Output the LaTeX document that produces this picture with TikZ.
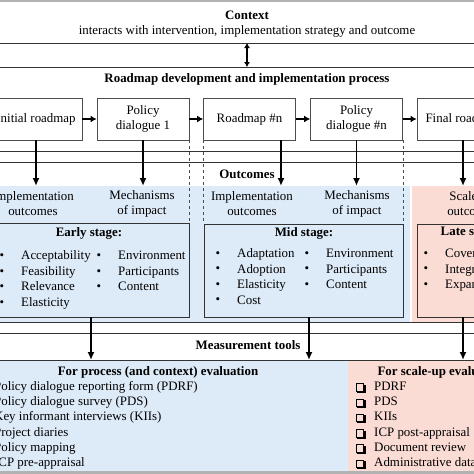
\documentclass[tikz,border=0pt]{standalone}
\usepackage{fontspec}
\setmainfont{Liberation Serif}
\usepackage{tikz}
\usetikzlibrary{arrows.meta}
\definecolor{bandblue}{RGB}{221,234,248}
\definecolor{bandpink}{RGB}{250,220,212}
\tikzset{
    rule/.style={black!80, line width=0.9pt},
    stepbox/.style={draw=black!70, line width=0.8pt, fill=white, minimum width=92pt, minimum height=42pt, align=center, inner sep=1pt},
    stagebox/.style={draw=black!80, line width=0.8pt, inner sep=0pt},
    band/.style={inner sep=0pt, outer sep=0pt, draw=none},
    flow/.style={line width=1.8pt, -{Latex[length=8pt,width=7pt]}},
    hflow/.style={line width=2.3pt, -{Latex[length=6pt,width=7pt]}},
    hdr/.style={font=\fontsize{12.9}{15}\selectfont\bfseries},
    lst/.style={anchor=west, inner sep=0pt, text height=9pt, text depth=3pt},
    chk/.style={draw, line width=0.7pt, minimum size=7.5pt, inner sep=0pt}
}

\begin{document}
\begin{tikzpicture}[x=1pt, y=-1pt, font=\fontsize{12.9}{15}\selectfont]
    \useasboundingbox (0,0) rectangle (474,474);
    \clip (0,0) rectangle (474,474);

    % Bands
    \fill[gray!60] (0,0) rectangle (474,2);
    \fill[gray!60] (0,471) rectangle (474,474);
    \node[band, fill=bandblue, minimum width=410pt, minimum height=136pt] (outband) at (205,254) {};
    \node[band, fill=bandpink, minimum width=70pt, minimum height=136pt] (scaleband) at (447,254) {};
    \node[band, fill=bandblue, minimum width=348pt, minimum height=111pt] (procband) at (174,415.5) {};
    \node[band, fill=bandpink, minimum width=130pt, minimum height=111pt] (evalband) at (413,415.5) {};

    % Rules
    \foreach \y in {43, 67, 151, 162, 322, 333, 360}
        \draw[rule] (-5,\y) -- (480,\y);

    % Context
    \node[hdr] (ctx) at (247,15) {Context};
    \node (ctxsub) at (247,31) {interacts with intervention, implementation strategy and outcome};
    \coordinate (ctxlow) at (247,43); \coordinate (proctop) at (247,67);
    \draw[line width=1.8pt, {Latex[length=5pt,width=6pt]}-{Latex[length=5pt,width=6pt]}] (ctxlow) -- (proctop);
    \node[hdr] (proc) at (247,79) {Roadmap development and implementation process};

    % Roadmap steps
    \foreach \name/\x/\txt in {init/36/Initial roadmap, pdone/143/Policy\\dialogue 1, rmn/249.5/Roadmap \#n, pdn/356.5/Policy\\dialogue \#n, final/463/Final roadmap}
        \node[stepbox] (\name) at (\x,119) {\txt};
    \foreach \a/\b in {init/pdone, pdone/rmn, rmn/pdn, pdn/final}
        \draw[hflow] (\a) -- (\b);
    \draw[dashed, black!70, line width=0.6pt] (pdone.south east) -- ++(0,82);
    \draw[dashed, black!70, line width=0.6pt] (rmn.south west) -- ++(0,82);
    \draw[dashed, black!70, line width=0.6pt] (pdn.south east) -- ++(0,82);
    \foreach \name in {init, pdone, pdn, final}
        \draw[flow] (\name.south) -- (\name.south |- outband.north);
    \draw[flow] ([xshift=31.5pt]rmn.south) -- ([xshift=31.5pt]rmn.south |- outband.north);

    % Outcomes
    \node[hdr] (outc) at (247,174) {Outcomes};
    \node[align=center] (impl1) at (33,204) {Implementation\\outcomes};
    \node[align=center] (mech1) at (142,204) {Mechanisms\\of impact};
    \node[align=center] (impl2) at (252,204) {Implementation\\outcomes};
    \node[align=center] (mech2) at (357,204) {Mechanisms\\of impact};
    \node[align=center] (scl) at (472,204) {Scale-up\\outcomes};

    \node[stagebox, minimum width=196pt, minimum height=94pt] (early) at (91,270) {};
    \node[stagebox, minimum width=199pt, minimum height=93pt] (mid) at (303.5,270.5) {};
    \node[stagebox, minimum width=92pt, minimum height=93pt] (late) at (463,270.5) {};
    \node[hdr] (earlyt) at (89,233) {Early stage:};
    \node[hdr] (midt) at (304,233) {Mid stage:};
    \node[hdr] (latet) at (471,233) {Late stage:};

    \foreach \txt [count=\i] in {Acceptability, Feasibility, Relevance, Elasticity} {
        \node (eb\i) at (2, 241.5+15.4*\i) {\textbullet};
        \node[lst] (ea\i) at (21, 241.5+15.4*\i) {\txt};
    }
    \foreach \txt [count=\i] in {Environment, Participants, Content} {
        \node (fb\i) at (99, 241.5+15.4*\i) {\textbullet};
        \node[lst] (fa\i) at (118, 241.5+15.4*\i) {\txt};
    }
    \foreach \txt [count=\i] in {Adaptation, Adoption, Elasticity, Cost} {
        \node (mb\i) at (218, 239+15.5*\i) {\textbullet};
        \node[lst] (ma\i) at (237, 239+15.5*\i) {\txt};
    }
    \foreach \txt [count=\i] in {Environment, Participants, Content} {
        \node (nb\i) at (307, 239+15.5*\i) {\textbullet};
        \node[lst] (na\i) at (326, 239+15.5*\i) {\txt};
    }
    \foreach \txt [count=\i] in {Coverage, Integration, Expansion} {
        \node (lb\i) at (426, 239+15.5*\i) {\textbullet};
        \node[lst] (la\i) at (445, 239+15.5*\i) {\txt};
    }

    % Measurement tools
    \node[hdr] (meas) at (248,345) {Measurement tools};
    \draw[flow] (early.south) -- (early.south |- procband.north);
    \draw[flow] ([xshift=5.5pt]mid.south) -- ([xshift=5.5pt]mid.south |- procband.north);
    \draw[flow] (late.south) -- (late.south |- evalband.north);

    \node[hdr] (proct) at (158,372) {For process (and context) evaluation};
    \foreach \txt [count=\i] in {Policy dialogue reporting form (PDRF), Policy dialogue survey (PDS), Key informant interviews (KIIs), Project diaries, Policy mapping, ICP pre-appraisal}
        \node[lst] (pt\i) at (-6, 372+15.3*\i) {\txt};

    \node[hdr, anchor=west] (evalt) at (374,372) {For scale-up evaluation};
    \foreach \txt [count=\i] in {PDRF, PDS, KIIs, ICP post-appraisal, Document review, Administrative data} {
        \node[chk] (sq\i) at (360, 372+15.3*\i) {};
        \draw[line width=1.4pt] ([shift={(1.5pt,-0.7pt)}]sq\i.south west) -| ([shift={(0.7pt,-1.5pt)}]sq\i.north east);
        \node[lst] (st\i) at (374, 372+15.3*\i) {\txt};
    }
\end{tikzpicture}
\end{document}
